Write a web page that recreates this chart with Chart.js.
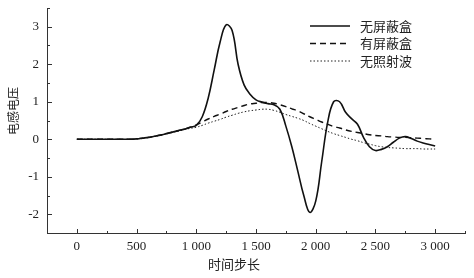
<!DOCTYPE html>
<html>
<head>
<meta charset="utf-8">
<script src="https://cdn.jsdelivr.net/npm/chart.js@4"></script>
<style>
  body { margin: 0; background: #fff; }
</style>
</head>
<body>
<canvas id="chart" width="474" height="278"></canvas>
<script>
// time steps, 0..3000 every 50
const steps = [
  0, 50, 100, 150, 200, 250, 300, 350, 400, 450,
  500, 550, 600, 650, 700, 750, 800, 850, 900, 950,
  1000, 1050, 1100, 1150, 1200, 1250, 1300, 1350, 1400, 1450,
  1500, 1550, 1600, 1650, 1700, 1750, 1800, 1850, 1900, 1950,
  2000, 2050, 2100, 2150, 2200, 2250, 2300, 2350, 2400, 2450,
  2500, 2550, 2600, 2650, 2700, 2750, 2800, 2850, 2900, 2950,
  3000
];

const seriesNames = ['无屏蔽盒', '有屏蔽盒', '无照射波'];

const noShield = [
  0, 0, 0, 0, 0, 0, 0, 0, 0, 0,
  0.01, 0.03, 0.05, 0.08, 0.11, 0.15, 0.19, 0.23, 0.27, 0.32,
  0.37, 0.6, 1.1, 1.85, 2.6, 3.05, 2.9, 2.0, 1.45, 1.2,
  1.05, 0.99, 0.95, 0.92, 0.8, 0.35, -0.2, -0.85, -1.5, -1.95,
  -1.65, -0.6, 0.45, 1.0, 1.0, 0.72, 0.55, 0.4, 0.05, -0.2,
  -0.3, -0.27, -0.2, -0.08, 0.03, 0.07, 0.02, -0.05, -0.1, -0.14,
  -0.18
];

const withShield = [
  0, 0, 0, 0, 0, 0, 0, 0, 0, 0,
  0.01, 0.03, 0.05, 0.08, 0.11, 0.15, 0.19, 0.23, 0.27, 0.32,
  0.38, 0.46, 0.54, 0.61, 0.67, 0.74, 0.8, 0.85, 0.9, 0.94,
  0.96, 0.98, 0.98, 0.96, 0.92, 0.87, 0.81, 0.76, 0.68, 0.6,
  0.53, 0.46, 0.4, 0.34, 0.3, 0.25, 0.21, 0.18, 0.15, 0.12,
  0.1, 0.09, 0.07, 0.06, 0.05, 0.05, 0.04, 0.03, 0.02, 0.01,
  0.0
];

const noWave = [
  0, 0, 0, 0, 0, 0, 0, 0, 0, 0,
  0.01, 0.03, 0.05, 0.08, 0.11, 0.14, 0.18, 0.22, 0.26, 0.29,
  0.32, 0.37, 0.43, 0.48, 0.53, 0.59, 0.64, 0.69, 0.73, 0.76,
  0.78, 0.8, 0.8, 0.77, 0.72, 0.66, 0.61, 0.56, 0.5, 0.42,
  0.35, 0.28, 0.21, 0.15, 0.1, 0.05, 0.0, -0.04, -0.09, -0.13,
  -0.17, -0.2, -0.22, -0.23, -0.24, -0.25, -0.25, -0.25, -0.26, -0.26,
  -0.26
];

const xTicks = [0, 500, 1000, 1500, 2000, 2500, 3000];
const xMinor = [-250, 250, 750, 1250, 1750, 2250, 2750, 3250];
const yTicks = [-2, -1, 0, 1, 2, 3];
const yMinor = [-2.5, -1.5, -0.5, 0.5, 1.5, 2.5, 3.5];

const toPoints = arr => steps.map((x, i) => ({ x: x, y: arr[i] }));

const serif = '"Liberation Serif", "DejaVu Serif", serif';
const cjk = '"Noto Sans CJK SC", sans-serif';

// inward tick marks, axis titles and the legend
const decorations = {
  id: 'decorations',
  afterDraw(chart) {
    const ctx = chart.ctx;
    const xs = chart.scales.x;
    const ys = chart.scales.y;
    const area = chart.chartArea;
    ctx.save();
    ctx.strokeStyle = '#333';
    ctx.lineWidth = 1;
    ctx.beginPath();
    xTicks.forEach(v => {
      const px = Math.round(xs.getPixelForValue(v)) + 0.5;
      ctx.moveTo(px, area.bottom);
      ctx.lineTo(px, area.bottom - 4);
    });
    xMinor.forEach(v => {
      const px = Math.round(xs.getPixelForValue(v)) + 0.5;
      ctx.moveTo(px, area.bottom);
      ctx.lineTo(px, area.bottom - 2);
    });
    yTicks.forEach(v => {
      const py = Math.round(ys.getPixelForValue(v)) + 0.5;
      ctx.moveTo(area.left, py);
      ctx.lineTo(area.left + 5, py);
    });
    yMinor.forEach(v => {
      const py = Math.round(ys.getPixelForValue(v)) + 0.5;
      ctx.moveTo(area.left, py);
      ctx.lineTo(area.left + 3, py);
    });
    ctx.stroke();

    ctx.fillStyle = '#222';
    ctx.font = '13px ' + cjk;
    ctx.textAlign = 'center';
    ctx.textBaseline = 'middle';
    ctx.fillText('时间步长', 234, 264);

    ctx.save();
    ctx.translate(13, 111);
    ctx.rotate(-Math.PI / 2);
    ctx.font = '12px ' + cjk;
    ctx.fillText('电感电压', 0, 0);
    ctx.restore();

    // legend
    chart.data.datasets.forEach((ds, i) => {
      const y = 26 + i * 17.5;
      ctx.beginPath();
      ctx.setLineDash(ds.borderDash || []);
      ctx.lineWidth = ds.borderWidth;
      ctx.strokeStyle = ds.borderColor;
      ctx.moveTo(310, y);
      ctx.lineTo(350, y);
      ctx.stroke();
      ctx.setLineDash([]);
      ctx.font = '13px ' + cjk;
      ctx.textAlign = 'left';
      ctx.fillStyle = '#222';
      ctx.fillText(ds.label, 360, y);
    });
    ctx.restore();
  }
};

new Chart(document.getElementById('chart'), {
  type: 'line',
  data: {
    datasets: [
      {
        label: seriesNames[0],
        data: toPoints(noShield),
        borderColor: '#111',
        borderWidth: 1.6,
        pointRadius: 0,
        tension: 0.4
      },
      {
        label: seriesNames[1],
        data: toPoints(withShield),
        borderColor: '#111',
        borderWidth: 1.4,
        borderDash: [6, 4],
        pointRadius: 0,
        tension: 0.4
      },
      {
        label: seriesNames[2],
        data: toPoints(noWave),
        borderColor: '#222',
        borderWidth: 1,
        borderDash: [1.5, 2],
        pointRadius: 0,
        tension: 0.4
      }
    ]
  },
  options: {
    responsive: false,
    animation: false,
    layout: { padding: { top: 8, right: 9, left: 0, bottom: 0 } },
    plugins: {
      legend: { display: false },
      tooltip: { enabled: false }
    },
    scales: {
      x: {
        type: 'linear',
        min: -250,
        max: 3250,
        grid: { display: false, drawTicks: false, tickLength: 0 },
        border: { display: true, color: '#333', width: 1 },
        afterBuildTicks: scale => { scale.ticks = xTicks.map(v => ({ value: v })); },
        afterFit: scale => {
          scale.height = 45;
          scale.paddingLeft = 0;
          scale.paddingRight = 0;
        },
        ticks: {
          padding: 6,
          maxRotation: 0,
          color: '#222',
          font: { family: serif, size: 13 },
          callback: v => v >= 1000 ? Math.floor(v / 1000) + ' ' + String(v % 1000).padStart(3, '0') : String(v)
        }
      },
      y: {
        min: -2.5,
        max: 3.5,
        grid: { display: false, drawTicks: false, tickLength: 0 },
        border: { display: true, color: '#333', width: 1 },
        afterBuildTicks: scale => { scale.ticks = yTicks.map(v => ({ value: v })); },
        afterFit: scale => {
          scale.width = 47;
          scale.paddingTop = 0;
          scale.paddingBottom = 0;
        },
        ticks: {
          padding: 8,
          color: '#222',
          font: { family: serif, size: 13 }
        }
      }
    }
  },
  plugins: [decorations]
});
</script>
</body>
</html>
